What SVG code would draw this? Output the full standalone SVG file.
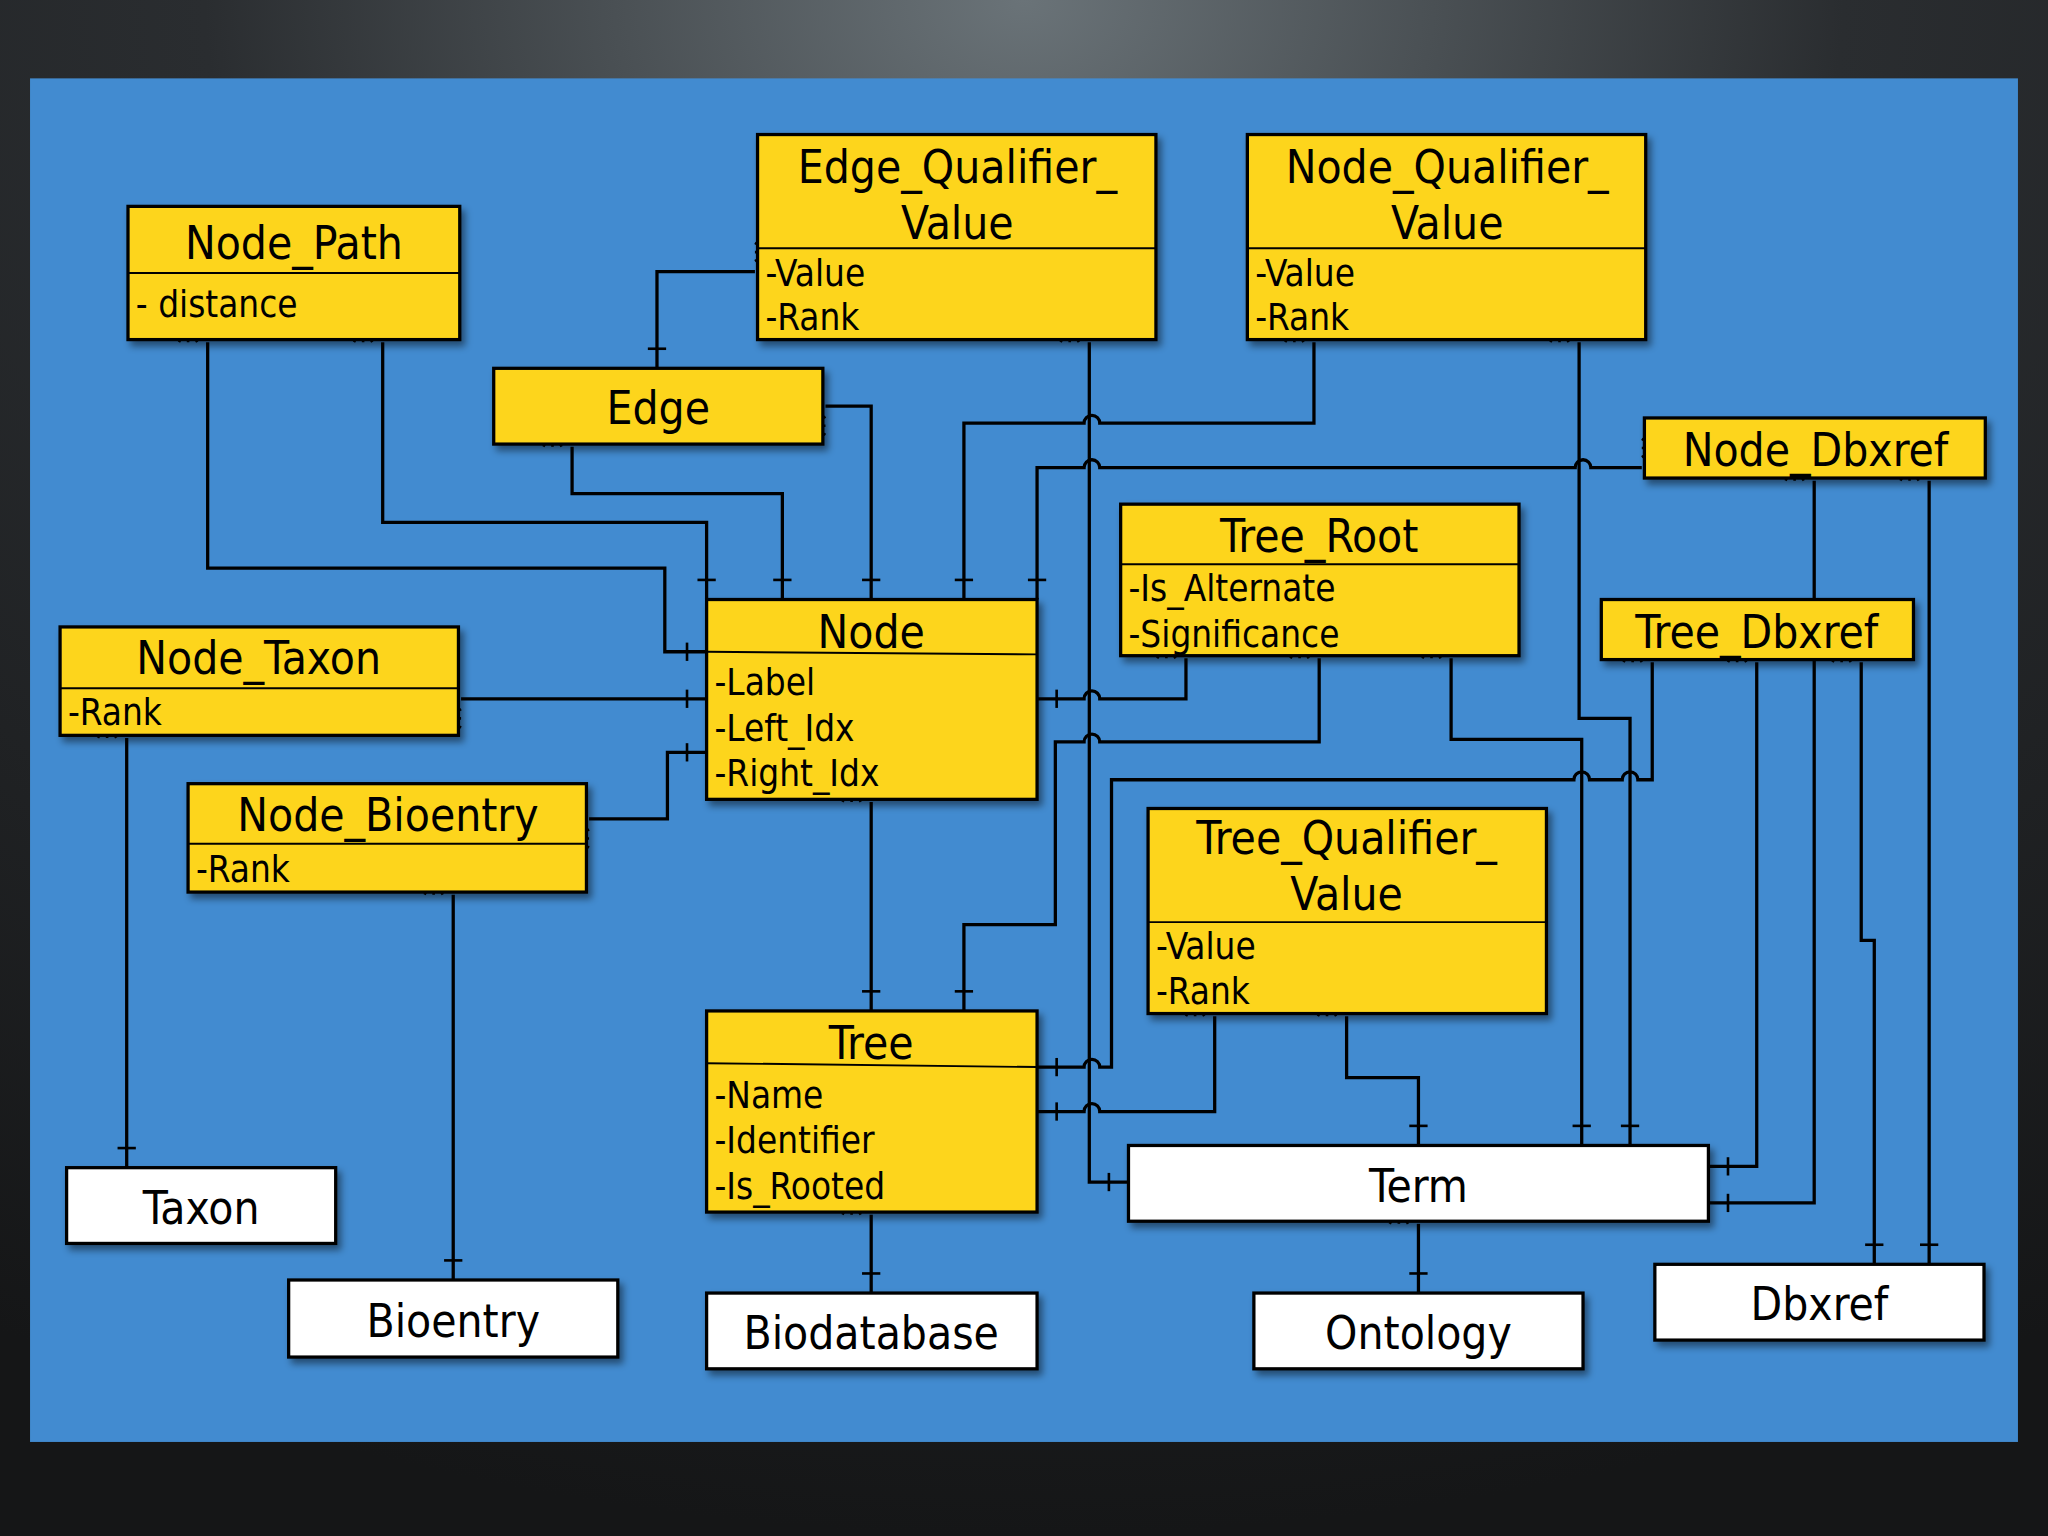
<svg xmlns="http://www.w3.org/2000/svg" width="2048" height="1536" viewBox="0 0 2048 1536">
<defs>
<radialGradient id="bg" cx="0.5" cy="0" r="1">
<stop offset="0" stop-color="#6a7378"/><stop offset="0.4" stop-color="#2a2d30"/><stop offset="1" stop-color="#151617"/>
</radialGradient>
<filter id="sh" x="-10%" y="-10%" width="130%" height="140%"><feDropShadow dx="3" dy="4" stdDeviation="3" flood-color="#000" flood-opacity="0.45"/></filter>
<marker id="many" markerUnits="userSpaceOnUse" markerWidth="40" markerHeight="30" refX="0" refY="15" viewBox="0 -15 40 30" orient="auto-start-reverse" overflow="visible">
<path d="M0,-7 L12,0 L0,7 M0,0 L12,0 L18,0" fill="none" stroke="#000" stroke-width="2"/>
<circle cx="22" cy="0" r="4" fill="#428bd0" stroke="#000" stroke-width="2"/>
</marker>
<marker id="one" markerUnits="userSpaceOnUse" markerWidth="40" markerHeight="30" viewBox="-40 -15 40 30" refX="0" refY="0" orient="auto" overflow="visible">
<path d="M-15,-7 L-15,7" stroke="#000" stroke-width="2"/>
</marker>
<style>
.y{fill:#fdd51c;stroke:#000;stroke-width:2.5;filter:url(#sh)}
.w{fill:#fff;stroke:#000;stroke-width:2.5;filter:url(#sh)}
.d{stroke:#000;stroke-width:1.5}
.t{font-family:"DejaVu Sans Condensed","DejaVu Sans",sans-serif;font-size:35px;text-anchor:middle;fill:#000}
.a{font-family:"DejaVu Sans Condensed","DejaVu Sans",sans-serif;font-size:28px;fill:#000}
.c path{fill:none;stroke:#000;stroke-width:2.5}
.m{marker-start:url(#many);marker-end:url(#one)}
</style>
</defs>
<rect width="2048" height="1536" fill="url(#bg)"/>
<g transform="scale(1.30612)">
<rect x="23" y="60" width="1522" height="1044" fill="#428bd0"/>
<g class="c" id="connectors">
<path class="m" d="M159,262 V435 H509 V499 H541"/>
<path class="m" d="M293,262 V400 H541 V459"/>
<path class="m" d="M438,342 V378 H599 V459"/>
<path class="m" d="M632,311 H667 V459"/>
<path class="m" d="M578,208 H503 V282"/>
<path class="m" d="M1006,262 V324 H842 A6 6 0 0 0 830 324 H738 V459"/>
<path class="m" d="M1257,358 H1218 A6 6 0 0 0 1206 358 H842 A6 6 0 0 0 830 358 H794 V459"/>
<path class="m" d="M834,262 V905 H864"/>
<path class="m" d="M1209,262 V550 H1248 V877"/>
<path class="m" d="M1111,504 V566 H1211 V877"/>
<path class="m" d="M908,504 V535 H842 A6 6 0 0 0 830 535 H794"/>
<path class="m" d="M1010,504 V568 H842 A6 6 0 0 0 830 568 H808 V708 H738 V774"/>
<path class="m" d="M1265,507 V597 H1254 A6 6 0 0 0 1242 597 H1217 A6 6 0 0 0 1205 597 H851 V817 H842 A6 6 0 0 0 830 817 H794"/>
<path class="m" d="M667,614 V774"/>
<path class="m" d="M930,778 V851 H842 A6 6 0 0 0 830 851 H794"/>
<path class="m" d="M1031,778 V825 H1086 V877"/>
<path class="m" d="M1345,507 V893 H1308"/>
<path class="m" d="M1389,368 V921 H1308"/>
<path class="m" d="M1477,368 V968"/>
<path class="m" d="M1425,507 V720 H1435 V968"/>
<path class="m" d="M97,565 V894"/>
<path class="m" d="M347,685 V980"/>
<path class="m" d="M451,627 H511 V576 H541"/>
<path class="m" d="M353,535 H541"/>
<path class="m" d="M667,930 V990"/>
<path class="m" d="M1086,937 V990"/>
</g>
<g id="Node_Path"><rect class="y" x="98" y="158" width="254" height="102"/><line class="d" x1="98" y1="209" x2="352" y2="209"/><text class="t" x="225" y="198">Node_Path</text><text class="a" x="104" y="243">- distance</text></g>
<g id="Edge_Qualifier_Value"><rect class="y" x="580" y="103" width="305" height="157"/><line class="d" x1="580" y1="190" x2="885" y2="190"/><text class="t" x="733" y="140">Edge_Qualifier_</text><text class="t" x="733" y="183">Value</text><text class="a" x="586" y="219">-Value</text><text class="a" x="586" y="253">-Rank</text></g>
<g id="Node_Qualifier_Value"><rect class="y" x="955" y="103" width="305" height="157"/><line class="d" x1="955" y1="190" x2="1260" y2="190"/><text class="t" x="1108" y="140">Node_Qualifier_</text><text class="t" x="1108" y="183">Value</text><text class="a" x="961" y="219">-Value</text><text class="a" x="961" y="253">-Rank</text></g>
<g id="Edge"><rect class="y" x="378" y="282" width="252" height="58"/><text class="t" x="504" y="325">Edge</text></g>
<g id="Node_Dbxref"><rect class="y" x="1259" y="320" width="261" height="46"/><text class="t" x="1390" y="357">Node_Dbxref</text></g>
<g id="Tree_Root"><rect class="y" x="858" y="386" width="305" height="116"/><line class="d" x1="858" y1="432" x2="1163" y2="432"/><text class="t" x="1010" y="423">Tree_Root</text><text class="a" x="864" y="460">-Is_Alternate</text><text class="a" x="864" y="495">-Significance</text></g>
<g id="Tree_Dbxref"><rect class="y" x="1226" y="459" width="239" height="46"/><text class="t" x="1345" y="496">Tree_Dbxref</text></g>
<g id="Node"><rect class="y" x="541" y="459" width="253" height="153"/><line class="d" x1="541" y1="499" x2="794" y2="501"/><text class="t" x="667" y="496">Node</text><text class="a" x="547" y="532">-Label</text><text class="a" x="547" y="567">-Left_Idx</text><text class="a" x="547" y="602">-Right_Idx</text></g>
<g id="Node_Taxon"><rect class="y" x="46" y="480" width="305" height="83"/><line class="d" x1="46" y1="527" x2="351" y2="527"/><text class="t" x="198" y="516">Node_Taxon</text><text class="a" x="52" y="555">-Rank</text></g>
<g id="Node_Bioentry"><rect class="y" x="144" y="600" width="305" height="83"/><line class="d" x1="144" y1="646" x2="449" y2="646"/><text class="t" x="297" y="636">Node_Bioentry</text><text class="a" x="150" y="675">-Rank</text></g>
<g id="Tree_Qualifier_Value"><rect class="y" x="879" y="619" width="305" height="157"/><line class="d" x1="879" y1="706" x2="1184" y2="706"/><text class="t" x="1031" y="654">Tree_Qualifier_</text><text class="t" x="1031" y="697">Value</text><text class="a" x="885" y="734">-Value</text><text class="a" x="885" y="769">-Rank</text></g>
<g id="Tree"><rect class="y" x="541" y="774" width="253" height="154"/><line class="d" x1="541" y1="814" x2="794" y2="817"/><text class="t" x="667" y="811">Tree</text><text class="a" x="547" y="848">-Name</text><text class="a" x="547" y="883">-Identifier</text><text class="a" x="547" y="918">-Is_Rooted</text></g>
<g id="Taxon"><rect class="w" x="51" y="894" width="206" height="58"/><text class="t" x="154" y="937">Taxon</text></g>
<g id="Bioentry"><rect class="w" x="221" y="980" width="252" height="59"/><text class="t" x="347" y="1024">Bioentry</text></g>
<g id="Biodatabase"><rect class="w" x="541" y="990" width="253" height="58"/><text class="t" x="667" y="1033">Biodatabase</text></g>
<g id="Term"><rect class="w" x="864" y="877" width="444" height="58"/><text class="t" x="1086" y="920">Term</text></g>
<g id="Ontology"><rect class="w" x="960" y="990" width="252" height="58"/><text class="t" x="1086" y="1033">Ontology</text></g>
<g id="Dbxref"><rect class="w" x="1267" y="968" width="252" height="58"/><text class="t" x="1393" y="1011">Dbxref</text></g>
</g>
</svg>
